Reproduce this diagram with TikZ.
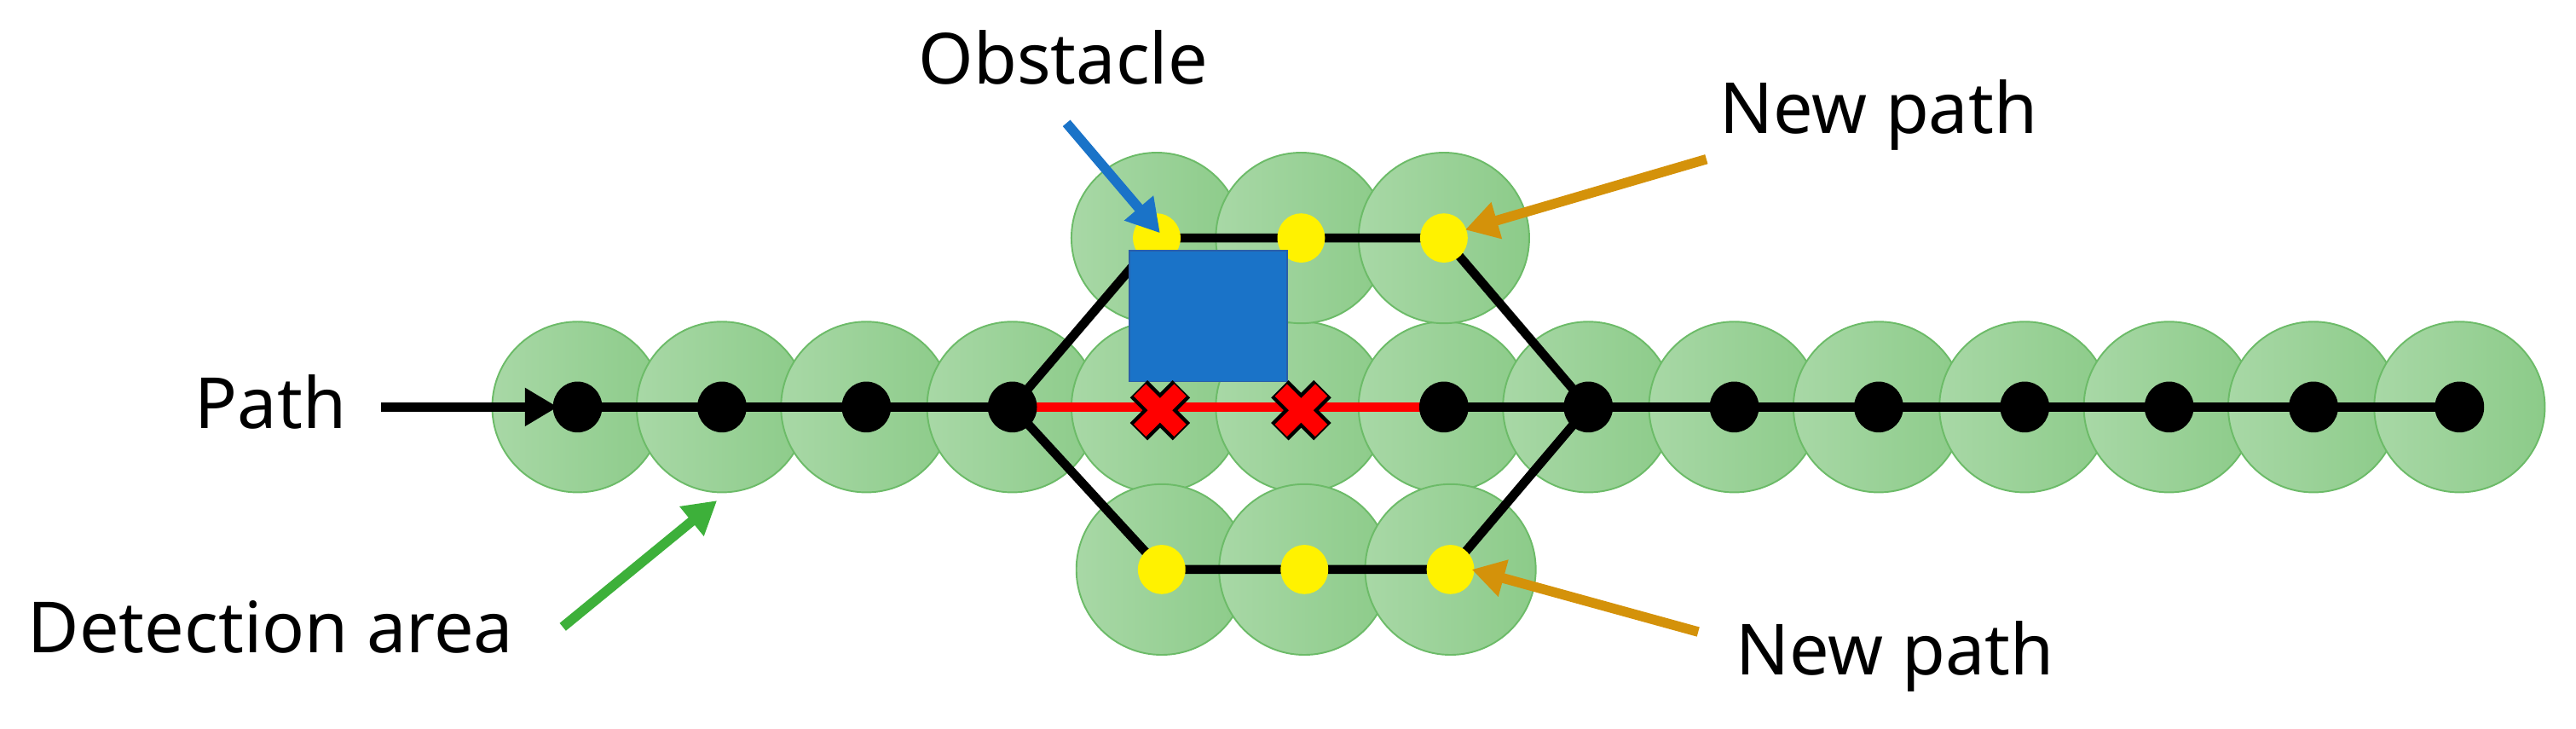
\documentclass[tikz,border=0pt]{standalone}
\usepackage{fontspec}
\setmainfont{Noto Sans}
\usetikzlibrary{arrows.meta,calc}
\definecolor{areaL}{HTML}{A8D8A6}
\definecolor{areaR}{HTML}{8CCB89}
\definecolor{areaD}{HTML}{6CBB68}
\definecolor{obsB}{HTML}{1A73C8}
\definecolor{obsD}{HTML}{2A5FA8}
\definecolor{arO}{HTML}{D4920A}
\definecolor{arG}{HTML}{3DB03A}
\begin{document}
\begin{tikzpicture}[x=1pt,y=-1pt,
  area/.style={circle,minimum size=104pt,inner sep=0pt,draw=areaD,line width=1pt,left color=areaL,right color=areaR},
  lbl/.style={font=\fontsize{43}{50}\selectfont},
  link/.style={line width=5.5pt},
  arr/.style={line width=6pt,-{Triangle[length=20pt,width=22pt]}}]
\useasboundingbox (0,0) rectangle (1570,444);
% detection areas main row
\foreach \x [count=\i] in {352,440,528,617,705,793,880,968,1057,1145,1234,1322,1410,1499}
  \node[area] (m\i) at (\x,248) {};
\foreach \x [count=\i] in {705,793,880} {
  \node[area] (t\i) at (\x,145) {};
}
\foreach \x [count=\i] in {708,795,884} {
  \node[area] (u\i) at (\x,347) {};
}
% coordinates of path nodes
\foreach \x [count=\i] in {352,440,528,617,880,968,1057,1145,1234,1322,1410,1499}
  \coordinate (p\i) at (\x,248);
\coordinate (y1) at (705,145); \coordinate (y2) at (793,145); \coordinate (y3) at (880,145);
\coordinate (z1) at (708,347); \coordinate (z2) at (795,347); \coordinate (z3) at (884,347);
% links
\draw[link] (p1)--(p4);
\draw[link,red] (p4)--(p5);
\draw[link] (p5)--(p12);
\draw[link] (p4)--(y1)--(y3)--(p6);
\draw[link] (p4)--(z1)--(z3)--(p6);
% dots
\foreach \i in {1,...,12} \fill (p\i) ellipse (15pt and 15.5pt);
\foreach \n in {y1,y2,y3,z1,z2,z3} \fill[yellow] (\n) ellipse (14.5pt and 15pt);
% obstacle
\node[draw=obsD,fill=obsB,line width=1pt,minimum width=96pt,minimum height=80pt,inner sep=0pt,anchor=north west] (obs) at (688,152) {};
% crosses
\foreach \x/\n in {707/c1,793/c2} {
  \coordinate (\n) at (\x,250);
  \draw[line width=15pt] ($(\n)+(-13,-13)$) -- ($(\n)+(13,13)$) ($(\n)+(-13,13)$) -- ($(\n)+(13,-13)$);
}
\foreach \n in {c1,c2}
  \draw[red,line width=10.5pt] ($(\n)+(-12.3,-12.3)$) -- ($(\n)+(12.3,12.3)$) ($(\n)+(-12.3,12.3)$) -- ($(\n)+(12.3,-12.3)$);
% labels
\node[lbl] (lobs) at (648,35) {Obstacle};
\node[lbl] (lnew1) at (1145,70) {New path};
\node[lbl] (lnew2) at (1155,400) {New path};
\node[lbl] (lpath) at (165,245) {Path};
\node[lbl] (ldet) at (165,382) {Detection area};
% arrows
\coordinate (a1) at (232,248); \coordinate (a2) at (340,248);
\draw[arr] (a1)--(a2);
\coordinate (b1) at (650,75); \coordinate (b2) at (707,142);
\draw[arr,obsB] (b1)--(b2);
\coordinate (c1s) at (1040,97); \coordinate (c1e) at (893,140);
\draw[arr,arO] (c1s)--(c1e);
\coordinate (c2s) at (1035,385); \coordinate (c2e) at (897,347);
\draw[arr,arO] (c2s)--(c2e);
\coordinate (d1) at (343,382); \coordinate (d2) at (437,305);
\draw[arr,arG] (d1)--(d2);
\end{tikzpicture}
\end{document}
